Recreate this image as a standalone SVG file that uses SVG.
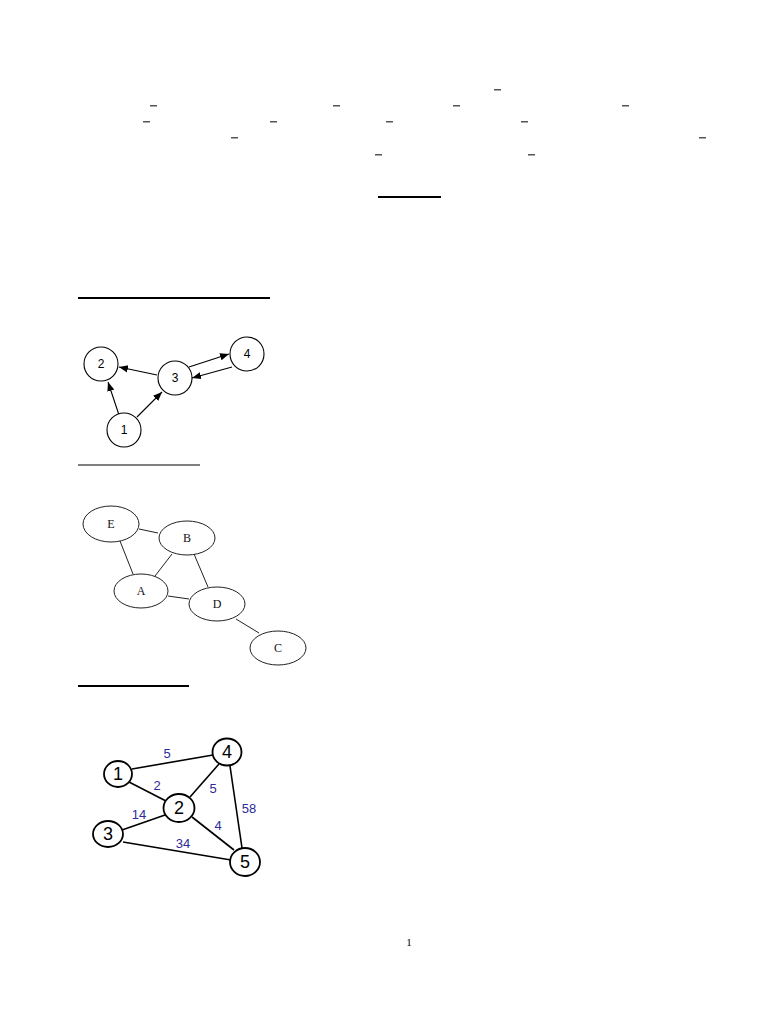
<svg xmlns="http://www.w3.org/2000/svg" width="768" height="1024" viewBox="0 0 768 1024">
<defs>
<style>
.dash{fill:#555}
.ul{stroke:#000;stroke-width:2}
.n1{fill:#fff;stroke:#000;stroke-width:1.1}
.e1{stroke:#000;stroke-width:1.1;fill:none}
.t1{font-family:"Liberation Sans",Arial,sans-serif;font-size:12px;text-anchor:middle;fill:#000}
.n2{fill:#fff;stroke:#222;stroke-width:1}
.e2{stroke:#222;stroke-width:1;fill:none}
.t2{font-family:"Liberation Serif","Times New Roman",serif;font-size:12px;text-anchor:middle;fill:#111}
.n3{fill:#fff;stroke:#000;stroke-width:1.8}
.e3{stroke:#000;stroke-width:1.6;fill:none}
.t3{font-family:"Liberation Sans",Arial,sans-serif;font-size:18px;text-anchor:middle;fill:#000}
.w{font-family:"Liberation Sans",Arial,sans-serif;font-size:13px;text-anchor:middle;fill:#2b2b9a}
</style>
<marker id="arr" viewBox="0 0 10 10" refX="10" refY="5" markerWidth="9" markerHeight="9" markerUnits="userSpaceOnUse" orient="auto">
<path d="M0,1 L10,5 L0,9 Z" fill="#000"/>
</marker>
</defs>
<rect width="768" height="1024" fill="#fff"/>
<g id="dashes">
<rect class="dash" x="494" y="89" width="7" height="1.5"/>
<rect class="dash" x="150" y="105" width="7" height="1.5"/>
<rect class="dash" x="333" y="105" width="7" height="1.5"/>
<rect class="dash" x="453" y="105" width="7" height="1.5"/>
<rect class="dash" x="622" y="105" width="7" height="1.5"/>
<rect class="dash" x="143" y="121" width="7" height="1.5"/>
<rect class="dash" x="270" y="121" width="7" height="1.5"/>
<rect class="dash" x="386" y="121" width="7" height="1.5"/>
<rect class="dash" x="521" y="121" width="7" height="1.5"/>
<rect class="dash" x="231" y="137" width="7" height="1.5"/>
<rect class="dash" x="699" y="137" width="7" height="1.5"/>
<rect class="dash" x="375" y="154" width="7" height="1.5"/>
<rect class="dash" x="528" y="154" width="7" height="1.5"/>
</g>
<g id="underlines">
<line class="ul" x1="378" y1="197" x2="441" y2="197"/>
<line class="ul" x1="78" y1="298" x2="270" y2="298"/>
<line class="ul" x1="78" y1="465" x2="200" y2="465" style="stroke-width:1.2"/>
<line class="ul" x1="78" y1="686" x2="189" y2="686"/>
</g>
<g id="graph1-edges">
<line class="e1" x1="157" y1="375" x2="119" y2="367" marker-end="url(#arr)"/>
<line class="e1" x1="119" y1="415" x2="108" y2="382" marker-end="url(#arr)"/>
<line class="e1" x1="137" y1="417" x2="162" y2="392" marker-end="url(#arr)"/>
<line class="e1" x1="189" y1="367" x2="229" y2="354" marker-end="url(#arr)"/>
<line class="e1" x1="232" y1="367" x2="192" y2="378" marker-end="url(#arr)"/>
</g>
<g id="g1-n2"><circle class="n1" cx="101" cy="364" r="17"/><text class="t1" x="101" y="368">2</text></g>
<g id="g1-n3"><circle class="n1" cx="175" cy="378" r="17"/><text class="t1" x="175" y="382">3</text></g>
<g id="g1-n4"><circle class="n1" cx="247" cy="354" r="17"/><text class="t1" x="247" y="358">4</text></g>
<g id="g1-n1"><circle class="n1" cx="124" cy="430" r="17"/><text class="t1" x="124" y="434">1</text></g>
<g id="graph2-edges">
<line class="e2" x1="139" y1="529" x2="158" y2="533"/>
<line class="e2" x1="120" y1="541" x2="133" y2="574"/>
<line class="e2" x1="172" y1="554" x2="155" y2="576"/>
<line class="e2" x1="194" y1="554" x2="208" y2="587"/>
<line class="e2" x1="168" y1="596" x2="189" y2="599"/>
<line class="e2" x1="236" y1="619" x2="259" y2="633"/>
</g>
<g id="g2-E"><ellipse class="n2" cx="111" cy="524" rx="28" ry="18"/><text class="t2" x="111" y="528">E</text></g>
<g id="g2-B"><ellipse class="n2" cx="187" cy="538" rx="28" ry="17"/><text class="t2" x="187" y="542">B</text></g>
<g id="g2-A"><ellipse class="n2" cx="141" cy="591" rx="27" ry="17"/><text class="t2" x="141" y="595">A</text></g>
<g id="g2-D"><ellipse class="n2" cx="217" cy="604" rx="28" ry="17"/><text class="t2" x="217" y="608">D</text></g>
<g id="g2-C"><ellipse class="n2" cx="278" cy="648" rx="28" ry="17"/><text class="t2" x="278" y="652">C</text></g>
<g id="graph3-edges">
<line class="e3" x1="132" y1="769" x2="213" y2="755"/>
<line class="e3" x1="129" y1="782" x2="166" y2="801"/>
<line class="e3" x1="219" y1="764" x2="190" y2="797"/>
<line class="e3" x1="230" y1="766" x2="242" y2="848"/>
<line class="e3" x1="122" y1="830" x2="165" y2="815"/>
<line class="e3" x1="192" y1="817" x2="234" y2="850"/>
<line class="e3" x1="123" y1="842" x2="231" y2="860"/>
</g>
<g id="weights">
<text class="w" x="167" y="758">5</text>
<text class="w" x="157" y="790">2</text>
<text class="w" x="213" y="793">5</text>
<text class="w" x="249" y="813">58</text>
<text class="w" x="139" y="819">14</text>
<text class="w" x="218" y="830">4</text>
<text class="w" x="183" y="848">34</text>
</g>
<g id="g3-1"><ellipse class="n3" cx="118" cy="774" rx="14" ry="13"/><text class="t3" x="118" y="780">1</text></g>
<g id="g3-4"><ellipse class="n3" cx="227" cy="752" rx="14.5" ry="13.5"/><text class="t3" x="227" y="758">4</text></g>
<g id="g3-2"><ellipse class="n3" cx="179" cy="808" rx="15.5" ry="14"/><text class="t3" x="179" y="814">2</text></g>
<g id="g3-3"><ellipse class="n3" cx="108" cy="834" rx="15" ry="13"/><text class="t3" x="108" y="840">3</text></g>
<g id="g3-5"><ellipse class="n3" cx="245" cy="862" rx="15" ry="14"/><text class="t3" x="245" y="868">5</text></g>
<text x="409" y="946" style="font-family:'Liberation Serif',serif;font-size:11px;text-anchor:middle;fill:#000">1</text>
</svg>
